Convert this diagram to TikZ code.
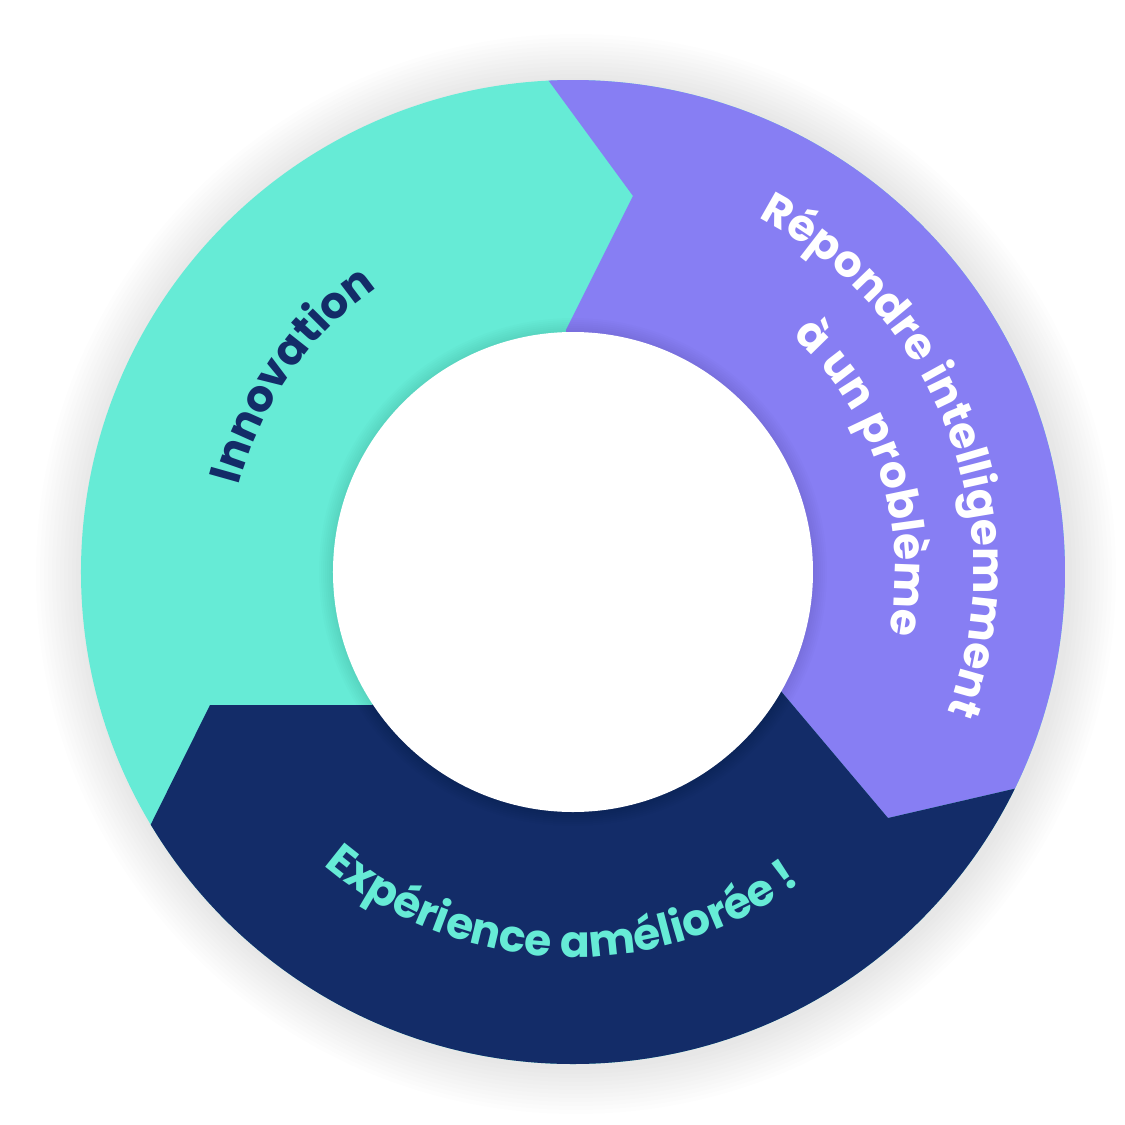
\documentclass[tikz,border=0pt]{standalone}
\usepackage{fontspec}
\setmainfont{Poppins}
\newfontfamily\pop[UprightFont=* Bold]{Poppins}
\usetikzlibrary{decorations.text}
\definecolor{teal}{HTML}{66EBD6}
\definecolor{purp}{HTML}{877EF3}
\definecolor{navy}{HTML}{132C68}
\tikzset{lbl/.style={decorate,decoration={text along path,text align=center,text={#1}}}}
\begin{document}
\begin{tikzpicture}
\useasboundingbox (-5.73,-5.53) rectangle (5.52,5.72);
\foreach \k in {1,...,12}{\fill[black,opacity=0.006] (0.03,-0.02) circle ({4.92+0.04*\k});}
\begin{scope}
\clip (0,0) circle (4.92);
\fill[teal] (-6,-6) rectangle (6,6);
\fill[purp] (-0.75,5.6) -- (-0.30,4.99) -- (0.60,3.76) -- (-0.07,2.42) -- (0,0) -- (2.07,-1.18) -- (3.15,-2.46) -- (4.49,-2.15) -- (5.8,-1.85) -- (6,6) -- cycle;
\fill[navy] (0,0) -- (-2.01,-1.33) -- (-3.63,-1.33) -- (-4.20,-2.48) -- (-4.6,-3.3) -- (-6,-6) -- (6,-6) -- (5.8,-1.85) -- (4.49,-2.15) -- (3.15,-2.46) -- (2.07,-1.18) -- cycle;
\end{scope}
\foreach \k in {1,...,8}{\fill[black,opacity=0.01] (0,0) circle ({2.40-0.02*\k+0.16});}
\fill[white] (0,0) circle (2.40);
\path[lbl={|\pop\fontsize{12.5}{15}\selectfont\color{navy}|Innovation}] (190:3.45) arc (190:100:3.45);
\path[lbl={|\pop\fontsize{12.5}{15}\selectfont\color{white}|Répondre intelligemment}] (80:4.0) arc (80:-38:4.0);
\path[lbl={|\pop\fontsize{12.5}{15}\selectfont\color{white}|à un problème}] (70:3.22) arc (70:-34:3.22);
\path[lbl={|\pop\fontsize{12.5}{15}\selectfont\color{teal}|Expérience améliorée !}] (200:3.85) arc (200:336:3.85);
\end{tikzpicture}
\end{document}
